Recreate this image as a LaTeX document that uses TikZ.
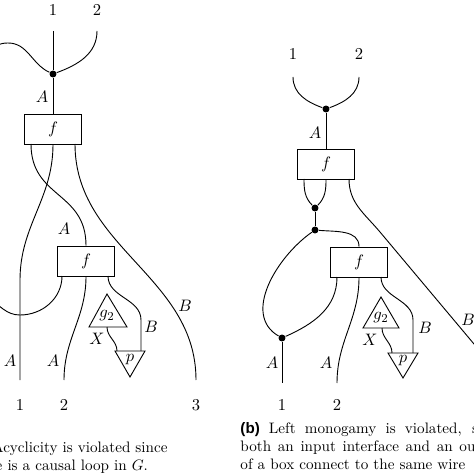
\documentclass[tikz,border=0pt]{standalone}
\usepackage{fontspec}
\newfontfamily\capsans{Liberation Sans}
\usetikzlibrary{calc}
\newcommand{\diafont}{\fontsize{10.95}{13}\selectfont}

\begin{document}
\begin{tikzpicture}[x=0.66pt,y=0.66pt,line width=0.6pt,
    box/.style={draw,rectangle,minimum width=37.6pt,minimum height=19.8pt,inner sep=0pt,font=\diafont},
    dot/.style={circle,fill,inner sep=0pt,minimum size=4.6pt},
    lbl/.style={inner sep=0pt,font=\diafont},
    capline/.style={inner sep=0pt,font=\fontsize{10}{12}\selectfont}]
    \useasboundingbox (0,0) rectangle (474,-474);
    \clip (0,0) rectangle (474,-474);

    % (a) nodes
    \node[lbl] (a-n1) at (53,-10) {1};
    \node[lbl] (a-n2) at (97,-10) {2};
    \coordinate (a-t1) at (53,-31);
    \coordinate (a-t2) at (97,-31);
    \coordinate (a-l) at (-12,-50);
    \coordinate (a-lpk) at (8,-43);
    \node[dot] (a-sp) at (53,-74) {};
    \node[box] (a-f1) at (53,-129) {$f$};
    \node[box] (a-f2) at (86,-261) {$f$};
    \coordinate (a-o11) at (31,-144);
    \coordinate (a-o13) at (75,-144);
    \coordinate (a-o21) at (62,-276);
    \coordinate (a-o23) at (108,-276);
    \coordinate (a-c1) at (20,-280);
    \coordinate (a-c2) at (141,-320);
    \coordinate (a-lb) at (20,-315);
    \coordinate (a-loop) at (-12,-298);
    \coordinate (a-g2o) at (107,-327);
    \coordinate (a-pi1) at (117,-351);
    \coordinate (a-pi2) at (141,-351);
    \coordinate (a-b1) at (20,-380);
    \coordinate (a-b2) at (64,-380);
    \coordinate (a-b3) at (196,-380);

    % (a) wires
    \draw (a-t1) -- (a-sp) -- (a-f1);
    \draw (a-t2) to[out=-90,in=20] (a-sp);
    \draw (a-l) to[out=30,in=180] (a-lpk) to[out=0,in=155] (a-sp);
    \draw (a-o11) to[out=-90,in=90,looseness=1.2] (a-f2);
    \draw (a-f1.south) to[out=-90,in=90] (a-c1) -- (a-b1);
    \draw (a-o13) to[out=-90,in=90] (a-b3);
    \draw (a-o21) to[out=-90,in=0] (a-lb) to[out=180,in=-30] (a-loop);
    \draw (a-f2.south) to[out=-90,in=90] (a-b2);
    \draw (a-o23) to[out=-90,in=90] (a-c2) -- (a-pi2);
    \draw (a-g2o) to[out=-90,in=90] (a-pi1);

    % (a) triangles
    \draw (107,-294) -- (127,-327) -- (89,-327) -- cycle;
    \node[lbl] (a-g2) at (107,-316) {$g_2$};
    \draw (115,-351) -- (145,-351) -- (130,-377) -- cycle;
    \node[lbl] (a-p) at (130,-360) {$p$};

    % (a) labels
    \node[lbl] at (42,-97) {$A$};
    \node[lbl] at (64,-229) {$A$};
    \node[lbl] at (10,-361) {$A$};
    \node[lbl] at (53,-361) {$A$};
    \node[lbl] at (185,-306) {$B$};
    \node[lbl] at (151,-327) {$B$};
    \node[lbl] at (97,-339) {$X$};
    \node[lbl] at (20,-405) {1};
    \node[lbl] at (64,-405) {2};
    \node[lbl] at (196,-405) {3};

    % (b) nodes
    \node[lbl] (b-n1) at (293,-54) {1};
    \node[lbl] (b-n2) at (359,-54) {2};
    \coordinate (b-t1) at (293,-77);
    \coordinate (b-t2) at (359,-77);
    \node[dot] (b-sp) at (326,-109) {};
    \node[box] (b-f1) at (326,-164) {$f$};
    \node[dot] (b-m1) at (315,-208) {};
    \node[dot] (b-m2) at (315,-230) {};
    \node[box] (b-f2) at (359,-262) {$f$};
    \node[dot] (b-m3) at (282,-338) {};
    \coordinate (b-o11) at (304,-179);
    \coordinate (b-o13) at (349,-179);
    \coordinate (b-o21) at (337,-277);
    \coordinate (b-o23) at (381,-277);
    \coordinate (b-c1) at (380,-232);
    \coordinate (b-far) at (500,-375);
    \coordinate (b-c2) at (413,-320);
    \coordinate (b-g2o) at (382,-328);
    \coordinate (b-pi1) at (392,-353);
    \coordinate (b-pi2) at (413,-353);
    \coordinate (b-b1) at (282,-383);
    \coordinate (b-b2) at (337,-383);

    % (b) wires
    \draw (b-t1) to[out=-90,in=160] (b-sp);
    \draw (b-t2) to[out=-90,in=20] (b-sp);
    \draw (b-sp) -- (b-f1);
    \draw (b-o11) to[out=-90,in=135] (b-m1);
    \draw (b-f1.south) to[out=-90,in=45] (b-m1);
    \draw (b-m1) -- (b-m2);
    \draw (b-m2) to[out=-5,in=90] (b-f2);
    \draw (b-m2) to[out=215,in=150] (b-m3);
    \draw (b-o21) to[out=-90,in=24] (b-m3);
    \draw (b-m3) -- (b-b1);
    \draw (b-f2.south) to[out=-90,in=90] (b-b2);
    \draw (b-o23) to[out=-90,in=90] (b-c2) -- (b-pi2);
    \draw (b-g2o) to[out=-90,in=90] (b-pi1);
    \draw (b-o13) to[out=-90,in=130] (b-c1) -- (b-far);

    % (b) triangles
    \draw (381,-297) -- (399,-328) -- (363,-328) -- cycle;
    \node[lbl] (b-g2) at (381,-318) {$g_2$};
    \draw (388,-353) -- (418,-353) -- (403,-378) -- cycle;
    \node[lbl] (b-p) at (403,-361) {$p$};

    % (b) labels
    \node[lbl] at (315,-133) {$A$};
    \node[lbl] at (272,-363) {$A$};
    \node[lbl] at (326,-363) {$A$};
    \node[lbl] at (425,-328) {$B$};
    \node[lbl] at (370,-340) {$X$};
    \node[lbl] at (468,-320) {$B$};
    \node[lbl] at (282,-405) {1};
    \node[lbl] at (337,-405) {2};

    % captions
    \node[capline,anchor=base east] (capa1) at (168,-452) {{\capsans\bfseries (a)} Acyclicity is violated since};
    \node[capline,anchor=base west] (capa2) at ([yshift=-12pt]capa1.base west) {there is a causal loop in $G$.};
    \node[capline,anchor=base west] (capb1) at (240,-433) {\makebox[174pt][s]{{\capsans\bfseries (b)} Left monogamy is violated, since}};
    \node[capline,anchor=base west] (capb2) at ([yshift=-12pt]capb1.base west) {\makebox[174pt][s]{both an input interface and an output}};
    \node[capline,anchor=base west] (capb3) at ([yshift=-12pt]capb2.base west) {of a box connect to the same wire};
\end{tikzpicture}
\end{document}
